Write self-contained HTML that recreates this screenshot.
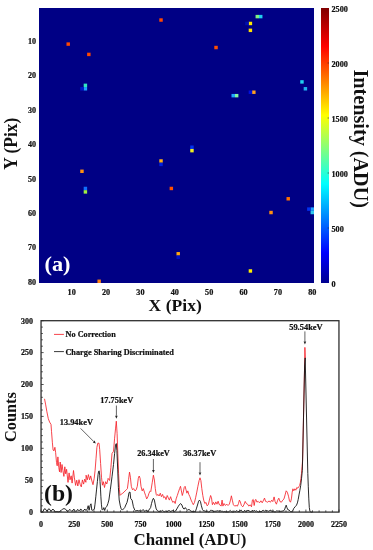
<!DOCTYPE html>
<html><head><meta charset="utf-8"><title>Figure</title>
<style>
html,body{margin:0;padding:0;background:#fff;}
svg{display:block}
text{font-family:"Liberation Serif","DejaVu Serif",serif;font-weight:bold;fill:#111}
.s text{stroke:#111;stroke-width:0.22px}
</style></head><body>
<svg width="373" height="550" viewBox="0 0 373 550">
<defs>
<linearGradient id="jet" x1="0" y1="1" x2="0" y2="0">
<stop offset="0" stop-color="#00008f"/>
<stop offset="0.11" stop-color="#0000ff"/>
<stop offset="0.36" stop-color="#00ffff"/>
<stop offset="0.61" stop-color="#ffff00"/>
<stop offset="0.86" stop-color="#ff0000"/>
<stop offset="1" stop-color="#800000"/>
</linearGradient>
</defs>
<rect width="373" height="550" fill="#fff"/>

<rect x="39" y="8" width="275" height="275" fill="#000085"/>
<rect x="66.50" y="42.38" width="3.44" height="3.44" fill="#ff4800"/>
<rect x="87.12" y="52.69" width="3.44" height="3.44" fill="#ff4800"/>
<rect x="83.69" y="83.62" width="3.44" height="3.44" fill="#30e8c0"/>
<rect x="83.69" y="87.06" width="3.44" height="3.44" fill="#20a0ff"/>
<rect x="80.25" y="87.06" width="3.44" height="3.44" fill="#0018c8"/>
<rect x="159.31" y="18.31" width="3.44" height="3.44" fill="#ff4800"/>
<rect x="214.31" y="45.81" width="3.44" height="3.44" fill="#ff5000"/>
<rect x="231.50" y="93.94" width="3.44" height="3.44" fill="#20a8ff"/>
<rect x="234.94" y="93.94" width="3.44" height="3.44" fill="#80f8a0"/>
<rect x="255.56" y="14.88" width="3.44" height="3.44" fill="#80f080"/>
<rect x="259.00" y="14.88" width="3.44" height="3.44" fill="#20d0f0"/>
<rect x="248.69" y="21.75" width="3.44" height="3.44" fill="#ffe800"/>
<rect x="245.25" y="21.75" width="3.44" height="3.44" fill="#0010b0"/>
<rect x="248.69" y="28.62" width="3.44" height="3.44" fill="#ffe000"/>
<rect x="300.25" y="80.19" width="3.44" height="3.44" fill="#20d0f0"/>
<rect x="303.69" y="87.06" width="3.44" height="3.44" fill="#20b0f0"/>
<rect x="252.12" y="90.50" width="3.44" height="3.44" fill="#ffa020"/>
<rect x="248.69" y="90.50" width="3.44" height="3.44" fill="#0010e0"/>
<rect x="80.25" y="169.56" width="3.44" height="3.44" fill="#ff9010"/>
<rect x="83.69" y="186.75" width="3.44" height="3.44" fill="#1070ff"/>
<rect x="83.69" y="190.19" width="3.44" height="3.44" fill="#a0f040"/>
<rect x="190.25" y="145.50" width="3.44" height="3.44" fill="#0030f0"/>
<rect x="190.25" y="148.94" width="3.44" height="3.44" fill="#f0f020"/>
<rect x="159.31" y="159.25" width="3.44" height="3.44" fill="#ffb010"/>
<rect x="159.31" y="162.69" width="3.44" height="3.44" fill="#0020e0"/>
<rect x="169.62" y="186.75" width="3.44" height="3.44" fill="#ff5000"/>
<rect x="286.50" y="197.06" width="3.44" height="3.44" fill="#ff7000"/>
<rect x="97.44" y="279.56" width="3.44" height="3.44" fill="#ff8010"/>
<rect x="176.50" y="252.06" width="3.44" height="3.44" fill="#ffa810"/>
<rect x="176.50" y="255.50" width="3.44" height="3.44" fill="#0010c8"/>
<rect x="269.31" y="210.81" width="3.44" height="3.44" fill="#ff9010"/>
<rect x="310.56" y="207.38" width="3.44" height="3.44" fill="#20a0ff"/>
<rect x="310.56" y="210.81" width="3.44" height="3.44" fill="#30c8f0"/>
<rect x="307.12" y="207.38" width="3.44" height="3.44" fill="#0030f0"/>
<rect x="248.69" y="269.25" width="3.44" height="3.44" fill="#fff000"/>
<g class="s">
<text x="36.1" y="44.0" font-size="8.1" text-anchor="end">10</text>
<text x="71.7" y="294.8" font-size="8.2" text-anchor="middle">10</text>
<text x="36.1" y="78.3" font-size="8.1" text-anchor="end">20</text>
<text x="106.0" y="294.8" font-size="8.2" text-anchor="middle">20</text>
<text x="36.1" y="112.7" font-size="8.1" text-anchor="end">30</text>
<text x="140.4" y="294.8" font-size="8.2" text-anchor="middle">30</text>
<text x="36.1" y="147.1" font-size="8.1" text-anchor="end">40</text>
<text x="174.8" y="294.8" font-size="8.2" text-anchor="middle">40</text>
<text x="36.1" y="181.5" font-size="8.1" text-anchor="end">50</text>
<text x="209.2" y="294.8" font-size="8.2" text-anchor="middle">50</text>
<text x="36.1" y="215.8" font-size="8.1" text-anchor="end">60</text>
<text x="243.5" y="294.8" font-size="8.2" text-anchor="middle">60</text>
<text x="36.1" y="250.2" font-size="8.1" text-anchor="end">70</text>
<text x="277.9" y="294.8" font-size="8.2" text-anchor="middle">70</text>
<text x="36.1" y="284.6" font-size="8.1" text-anchor="end">80</text>
<text x="312.3" y="294.8" font-size="8.2" text-anchor="middle">80</text>
<rect x="321" y="8" width="8" height="275" fill="url(#jet)"/>
<text x="331.5" y="286.8" font-size="8.2">0</text>
<text x="331.5" y="231.8" font-size="8.2">500</text>
<path d="M327.6 228.0H329" stroke="#222" stroke-width="0.6"/>
<text x="331.5" y="176.8" font-size="8.2">1000</text>
<path d="M327.6 173.0H329" stroke="#222" stroke-width="0.6"/>
<text x="331.5" y="121.8" font-size="8.2">1500</text>
<path d="M327.6 118.0H329" stroke="#222" stroke-width="0.6"/>
<text x="331.5" y="66.8" font-size="8.2">2000</text>
<path d="M327.6 63.0H329" stroke="#222" stroke-width="0.6"/>
<text x="331.5" y="11.8" font-size="8.2">2500</text>
</g>
<text x="175.2" y="310.7" font-size="17" text-anchor="middle" textLength="53.2" lengthAdjust="spacingAndGlyphs">X (Pix)</text>
<text transform="translate(16.6,143.7) rotate(-90)" font-size="18.5" text-anchor="middle" textLength="52.2" lengthAdjust="spacingAndGlyphs">Y (Pix)</text>
<text transform="translate(354.3,138.7) rotate(90)" font-size="20" text-anchor="middle" textLength="138.5" lengthAdjust="spacingAndGlyphs">Intensity (ADU)</text>
<text x="44.5" y="271.2" font-size="22" style="fill:#fff" textLength="26" lengthAdjust="spacingAndGlyphs">(a)</text>
<polyline points="44.6,399.2 45.7,404.9 46.9,411.8 48.3,418.7 49.6,422.1 51.0,424.4 51.5,431.3 52.4,442.8 53.1,450.1 54.0,450.8 54.9,447.3 55.6,452.3 56.5,462.5 57.2,465.8 57.9,456.9 58.8,467.5 59.5,471.8 60.2,462.0 61.1,472.5 62.0,464.5 62.9,470.4 63.9,476.4 64.8,466.8 65.7,473.8 66.6,469.3 68.0,482.4 69.1,472.9 70.0,479.8 71.2,475.8 72.1,483.1 73.5,470.5 74.4,477.9 75.6,485.4 76.7,480.2 77.8,486.0 79.0,479.7 80.1,484.3 81.3,486.9 82.4,479.9 83.6,484.1 84.7,479.1 85.9,482.3 86.1,475.2 87.3,479.8 88.4,474.6 89.6,479.8 90.7,475.9 91.9,481.0 93.0,484.7 94.2,478.3 95.1,470.3 96.0,458.8 96.9,447.3 97.8,443.2 99.0,443.2 99.7,449.6 100.6,463.4 101.5,477.2 102.4,485.2 103.3,481.7 104.5,487.5 105.6,481.7 106.8,484.0 107.9,479.4 108.1,478.4 109.6,480.5 110.9,467.5 112.0,453.5 113.5,451.3 114.6,438.2 115.5,428.9 116.3,421.2 117.1,433.5 117.8,453.6 118.6,473.7 119.4,489.2 120.0,495.4 121.2,494.2 122.8,493.2 124.0,492.1 125.1,490.9 126.3,489.8 127.4,488.6 128.6,479.4 129.5,472.1 130.4,477.2 131.3,486.3 132.5,489.8 133.6,488.6 135.0,490.9 136.2,489.8 137.3,486.3 138.3,478.3 139.2,476.0 140.1,478.3 141.0,486.3 142.2,490.9 143.3,488.6 144.4,492.1 145.6,495.5 146.7,498.9 147.9,496.7 149.0,493.2 150.2,490.9 150.8,491.5 152.2,482.8 153.4,475.2 154.4,480.0 155.3,488.6 156.2,494.4 156.8,495.5 158.0,494.4 159.1,496.0 160.3,493.2 161.4,496.7 162.6,494.4 163.7,497.8 164.9,496.7 166.0,499.6 167.2,495.5 168.3,497.8 169.4,500.1 170.6,496.7 171.7,500.1 172.9,502.4 174.0,501.2 175.2,503.5 176.1,498.9 177.3,495.5 178.4,492.1 179.6,488.6 180.5,486.3 181.4,490.9 182.3,495.5 183.3,492.1 184.2,487.5 185.1,486.3 186.0,489.8 186.9,493.2 187.8,490.9 188.8,494.4 189.9,496.7 191.1,500.1 192.2,502.4 193.3,504.7 194.5,502.4 195.6,497.8 196.8,492.1 197.9,486.3 199.1,480.6 200.0,477.8 200.9,480.6 201.8,488.6 202.8,495.5 203.7,500.1 204.8,503.5 206.0,502.4 207.1,505.8 208.3,504.7 209.4,500.1 210.6,495.5 211.5,497.8 212.4,504.7 213.5,502.4 214.7,504.7 215.8,501.9 217.0,504.2 218.1,501.2 219.3,504.7 220.0,504.8 221.1,506.1 222.1,500.1 222.9,506.1 224.0,503.5 225.4,505.5 226.7,504.1 228.0,505.5 229.4,504.1 230.5,500.1 231.4,495.8 232.3,500.1 233.4,504.8 234.7,506.1 236.1,505.5 237.4,506.1 238.5,503.5 239.4,500.1 240.4,502.1 241.4,505.5 242.8,506.8 243.9,504.8 245.2,501.4 246.3,503.5 247.5,504.1 248.8,506.1 250.2,504.8 251.5,506.8 252.4,500.1 253.2,499.4 254.2,505.5 255.1,500.1 255.9,499.4 256.9,502.1 258.2,501.4 259.5,502.8 260.9,500.8 262.2,502.8 263.6,500.1 264.5,498.1 265.6,501.4 266.3,501.6 267.7,502.2 269.0,500.9 270.4,502.2 271.7,500.2 272.8,501.6 274.1,496.9 275.1,501.6 276.4,504.2 277.7,500.2 278.8,498.2 280.0,501.6 281.4,502.2 282.7,500.2 284.0,498.9 285.1,494.9 286.2,490.8 287.3,492.2 288.5,496.2 289.5,500.9 290.5,502.2 291.4,498.9 292.2,492.2 292.9,488.8 293.8,490.8 294.8,488.8 295.8,490.2 296.8,487.5 297.8,488.2 298.8,486.8 299.6,485.5 300.3,482.8 300.9,478.8 301.5,473.4 302.1,466.7 302.6,460.0 304.6,366.0 304.9,347.4 305.3,357.9" fill="none" stroke="#f5222a" stroke-width="0.85" stroke-linejoin="round" stroke-linecap="round"/>
<polyline points="41.5,512.1 43.0,511.6 44.0,509.1 45.0,508.8 46.0,509.6 47.0,511.6 48.0,509.4 49.0,508.9 50.0,509.6 51.0,511.7 52.0,509.9 53.0,509.1 54.0,510.1 55.0,511.8 57.0,511.6 59.0,511.9 61.0,510.6 62.5,509.1 64.0,508.6 65.5,509.1 67.0,511.1 68.0,511.7 69.0,510.1 70.0,509.4 71.0,510.6 72.0,511.6 73.0,509.9 74.0,509.3 75.0,510.7 76.0,511.7 77.0,510.1 78.0,509.5 79.0,510.9 80.0,509.7 81.0,509.1 82.0,510.5 83.0,511.5 84.0,509.9 85.0,509.1 86.0,510.6 87.3,508.9 88.2,505.7 89.1,510.3 90.2,505.3 91.0,503.8 91.8,510.1 92.6,510.3 94.3,509.4 95.0,504.2 95.8,496.8 96.6,489.1 97.4,481.4 98.1,474.4 98.6,471.3 99.2,470.9 99.7,475.2 100.0,481.4 100.5,489.1 100.9,496.8 101.4,504.2 102.0,509.4 102.7,510.1 103.8,507.6 104.7,510.5 105.6,507.6 106.8,506.5 107.9,503.6 108.9,500.0 110.4,489.2 112.0,476.8 113.5,464.5 114.6,453.6 115.5,445.1 116.3,443.6 116.9,450.5 117.7,469.1 118.4,487.6 119.2,500.0 120.3,505.9 121.2,508.9 122.4,510.1 123.5,508.9 124.7,507.6 125.8,505.0 127.0,502.4 128.1,497.8 129.0,492.5 130.0,492.0 130.7,498.5 132.1,500.2 133.4,506.7 134.8,510.2 135.9,511.2 137.0,510.3 138.1,511.0 139.2,510.6 140.3,511.1 141.4,511.2 142.5,509.9 143.6,509.8 144.7,511.6 145.8,510.4 146.9,510.3 148.0,512.0 148.8,510.1 150.6,507.6 151.5,503.6 152.5,500.1 153.4,498.3 154.4,500.1 155.3,505.0 156.2,508.9 157.2,510.5 158.0,511.0 159.1,511.7 160.2,511.0 161.3,511.3 162.4,510.4 163.5,511.3 164.6,511.7 165.7,511.1 166.8,511.5 167.9,511.4 169.0,510.2 170.1,511.5 171.2,511.2 172.3,510.7 173.4,510.2 174.5,511.7 175.6,511.0 177.3,508.1 178.4,506.2 179.6,504.4 180.7,503.6 181.9,505.0 183.0,508.1 184.2,509.1 185.3,507.6 186.5,509.3 187.6,510.1 189.0,509.4 191.0,511.2 192.0,511.5 193.1,511.8 194.2,511.5 195.3,511.9 196.3,508.9 197.5,505.0 198.6,501.2 199.5,500.1 200.5,501.7 201.4,505.8 202.5,509.6 203.7,511.0 205.0,510.9 206.1,511.7 207.2,511.0 208.3,512.0 209.4,511.9 210.5,510.3 211.6,510.4 212.7,510.5 213.8,512.0 214.9,511.0 216.0,511.4 217.1,510.7 218.2,511.1 219.3,510.9 220.4,510.8 221.5,511.3 222.6,511.3 223.7,511.9 224.8,511.5 225.9,512.0 227.0,511.8 228.1,512.1 229.2,511.4 230.3,510.4 231.4,511.8 232.5,512.0 233.6,511.9 234.7,511.2 235.8,511.5 236.9,510.5 238.0,511.8 239.1,511.2 240.2,510.7 241.3,510.2 242.4,511.8 243.5,512.1 244.6,510.3 245.7,511.7 246.8,510.9 247.9,510.4 249.0,510.7 250.1,511.6 251.2,511.8 252.3,510.2 253.4,511.3 254.5,510.2 255.6,511.5 256.7,510.8 257.8,511.9 258.9,512.1 260.0,511.1 261.1,512.1 262.2,510.7 263.3,510.3 264.4,511.3 265.5,510.2 266.6,510.5 267.7,510.9 268.8,511.3 269.9,510.4 271.0,510.2 272.1,511.8 273.2,510.7 274.3,512.0 275.4,511.9 276.5,510.9 277.6,511.0 278.7,511.1 279.8,511.4 280.9,511.3 282.0,511.2 283.8,510.7 284.8,509.1 285.5,506.7 286.2,505.2 286.9,507.5 287.8,509.7 289.1,510.1 290.5,511.5 291.8,511.7 292.9,510.4 293.8,508.3 295.2,506.7 296.5,505.2 297.4,502.9 298.2,499.5 299.0,494.9 299.9,490.2 300.7,485.5 301.5,478.8 302.3,470.7 302.6,460.0 304.6,366.0 305.2,357.9 307.5,460.0 307.8,473.4 308.3,486.8 308.8,498.9 309.3,507.5 309.9,511.1 310.6,512.1 312.0,512.2" fill="none" stroke="#111" stroke-width="0.9" stroke-linejoin="round" stroke-linecap="round"/>
<rect x="41.05" y="320.7" width="297.9" height="191.4" fill="none" stroke="#303030" stroke-width="1.3"/>
<path d="M41.05 512.1h2.6M41.05 505.8h1.8M41.05 499.4h1.8M41.05 493.0h1.8M41.05 486.6h1.8M41.05 480.2h2.6M41.05 473.9h1.8M41.05 467.5h1.8M41.05 461.1h1.8M41.05 454.7h1.8M41.05 448.3h2.6M41.05 442.0h1.8M41.05 435.6h1.8M41.05 429.2h1.8M41.05 422.8h1.8M41.05 416.4h2.6M41.05 410.0h1.8M41.05 403.7h1.8M41.05 397.3h1.8M41.05 390.9h1.8M41.05 384.5h2.6M41.05 378.1h1.8M41.05 371.8h1.8M41.05 365.4h1.8M41.05 359.0h1.8M41.05 352.6h2.6M41.05 346.2h1.8M41.05 339.8h1.8M41.05 333.5h1.8M41.05 327.1h1.8M41.05 320.7h2.6M41.0 512.15v-2.6M47.7 512.15v-1.8M54.3 512.15v-1.8M60.9 512.15v-1.8M67.5 512.15v-1.8M74.2 512.15v-2.6M80.8 512.15v-1.8M87.4 512.15v-1.8M94.0 512.15v-1.8M100.6 512.15v-1.8M107.3 512.15v-2.6M113.9 512.15v-1.8M120.5 512.15v-1.8M127.1 512.15v-1.8M133.7 512.15v-1.8M140.4 512.15v-2.6M147.0 512.15v-1.8M153.6 512.15v-1.8M160.2 512.15v-1.8M166.9 512.15v-1.8M173.5 512.15v-2.6M180.1 512.15v-1.8M186.7 512.15v-1.8M193.3 512.15v-1.8M200.0 512.15v-1.8M206.6 512.15v-2.6M213.2 512.15v-1.8M219.8 512.15v-1.8M226.4 512.15v-1.8M233.1 512.15v-1.8M239.7 512.15v-2.6M246.3 512.15v-1.8M252.9 512.15v-1.8M259.5 512.15v-1.8M266.2 512.15v-1.8M272.8 512.15v-2.6M279.4 512.15v-1.8M286.0 512.15v-1.8M292.7 512.15v-1.8M299.3 512.15v-1.8M305.9 512.15v-2.6M312.5 512.15v-1.8M319.1 512.15v-1.8M325.8 512.15v-1.8M332.4 512.15v-1.8M339.0 512.15v-2.6" stroke="#2a2a2a" stroke-width="0.8" fill="none"/>
<g class="s">
<text x="33" y="514.9" font-size="8" text-anchor="end">0</text>
<text x="33" y="483.0" font-size="8" text-anchor="end">50</text>
<text x="33" y="451.1" font-size="8" text-anchor="end">100</text>
<text x="33" y="419.2" font-size="8" text-anchor="end">150</text>
<text x="33" y="387.3" font-size="8" text-anchor="end">200</text>
<text x="33" y="355.4" font-size="8" text-anchor="end">250</text>
<text x="33" y="323.5" font-size="8" text-anchor="end">300</text>
<text x="41.0" y="526.6" font-size="8" text-anchor="middle">0</text>
<text x="74.2" y="526.6" font-size="8" text-anchor="middle">250</text>
<text x="107.3" y="526.6" font-size="8" text-anchor="middle">500</text>
<text x="140.4" y="526.6" font-size="8" text-anchor="middle">750</text>
<text x="173.5" y="526.6" font-size="8" text-anchor="middle">1000</text>
<text x="206.6" y="526.6" font-size="8" text-anchor="middle">1250</text>
<text x="239.7" y="526.6" font-size="8" text-anchor="middle">1500</text>
<text x="272.8" y="526.6" font-size="8" text-anchor="middle">1750</text>
<text x="305.9" y="526.6" font-size="8" text-anchor="middle">2000</text>
<text x="339.0" y="526.6" font-size="8" text-anchor="middle">2250</text>
</g>
<text x="190" y="545" font-size="17.5" text-anchor="middle" textLength="113" lengthAdjust="spacingAndGlyphs">Channel (ADU)</text>
<text transform="translate(15.7,417.1) rotate(-90)" font-size="17.5" text-anchor="middle" textLength="50" lengthAdjust="spacingAndGlyphs">Counts</text>
<text x="44" y="501" font-size="23" textLength="29" lengthAdjust="spacingAndGlyphs">(b)</text>
<g class="s">
<path d="M54 334.4H63.9" stroke="#f5222a" stroke-width="0.85"/>
<path d="M54 351.6H63.9" stroke="#222" stroke-width="0.9"/>
<text x="65.6" y="337" font-size="8.5" textLength="50.2" lengthAdjust="spacingAndGlyphs">No Correction</text>
<text x="65.4" y="354.6" font-size="8.5" textLength="108.5" lengthAdjust="spacingAndGlyphs">Charge Sharing Discriminated</text>
<text x="289.2" y="329.8" font-size="8.5" textLength="33.5" lengthAdjust="spacingAndGlyphs">59.54keV</text>
<path d="M304.9 331.4L304.9 341.6" stroke="#222" stroke-width="0.7"/>
<path d="M304.9 344.6L303.6 341.6L306.2 341.6Z" fill="#222"/>
<text x="100.2" y="403.1" font-size="8.5" textLength="33" lengthAdjust="spacingAndGlyphs">17.75keV</text>
<path d="M116.4 405.5L116.4 415.8" stroke="#222" stroke-width="0.7"/>
<path d="M116.4 418.8L115.1 415.8L117.7 415.8Z" fill="#222"/>
<text x="59.7" y="425" font-size="8.5" textLength="33.3" lengthAdjust="spacingAndGlyphs">13.94keV</text>
<path d="M80.6 428.4L93.7 441.5" stroke="#222" stroke-width="0.7"/>
<path d="M95.8 443.6L92.8 442.4L94.6 440.6Z" fill="#222"/>
<text x="137.2" y="455.7" font-size="8.5" textLength="32.6" lengthAdjust="spacingAndGlyphs">26.34keV</text>
<path d="M153.4 459.0L153.4 470.0" stroke="#222" stroke-width="0.7"/>
<path d="M153.4 473.0L152.1 470.0L154.7 470.0Z" fill="#222"/>
<text x="183.2" y="455.7" font-size="8.5" textLength="33" lengthAdjust="spacingAndGlyphs">36.37keV</text>
<path d="M200.0 462.2L200.0 472.5" stroke="#222" stroke-width="0.7"/>
<path d="M200.0 475.5L198.7 472.5L201.3 472.5Z" fill="#222"/>
</g>
</svg></body></html>
